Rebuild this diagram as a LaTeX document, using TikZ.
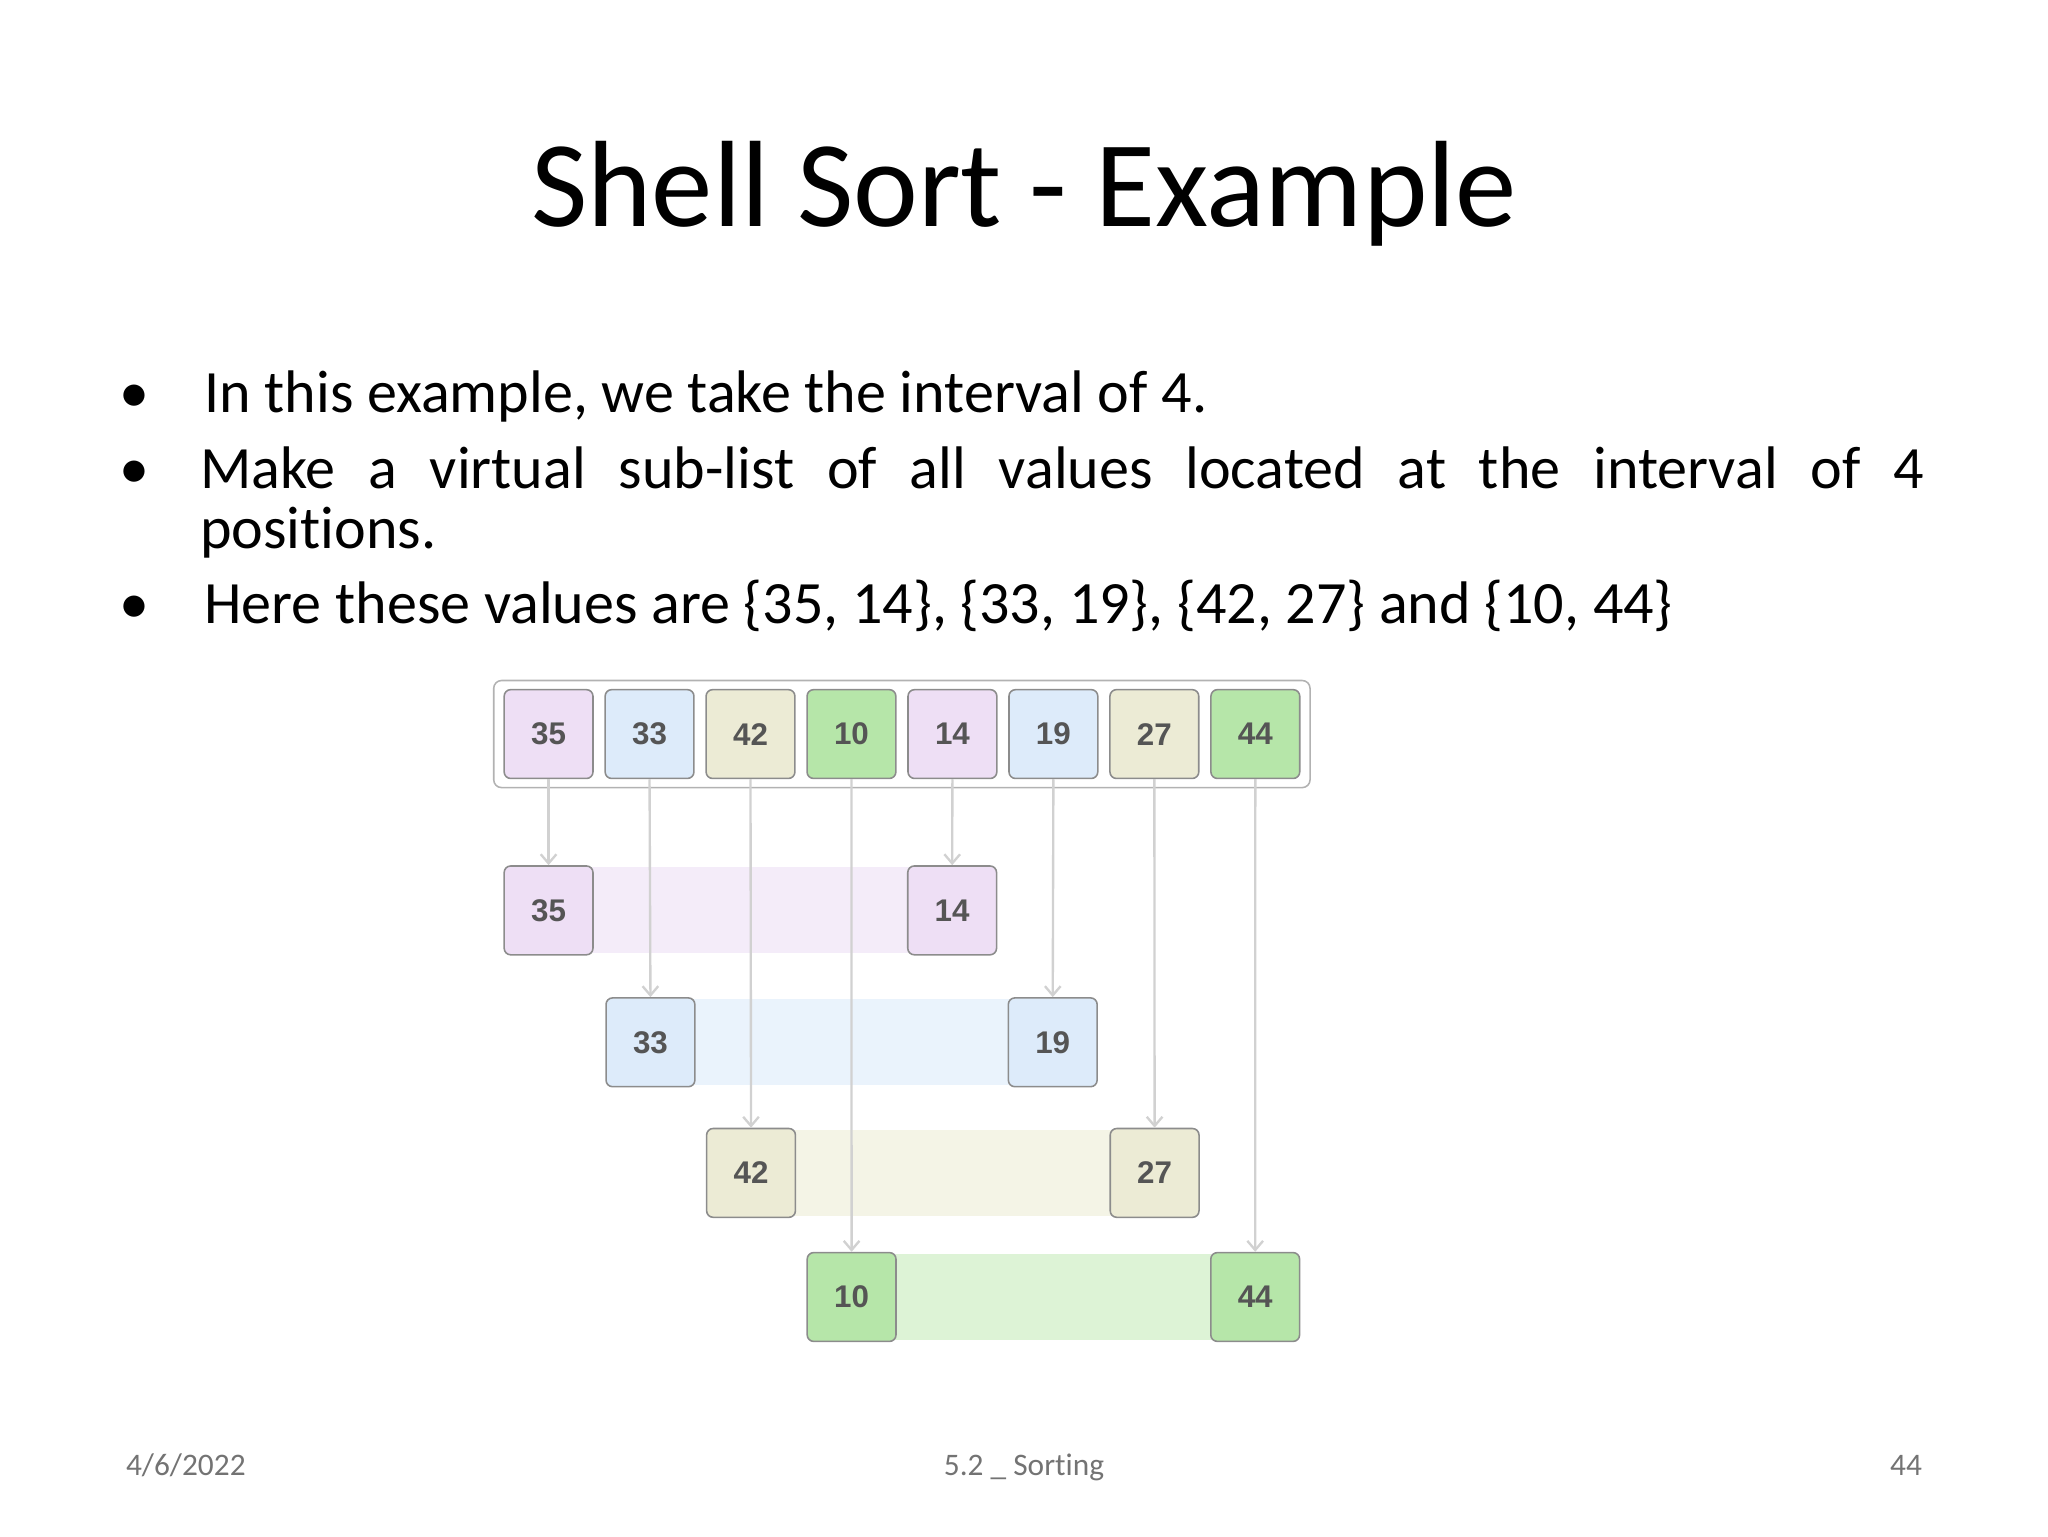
\documentclass[tikz,border=0pt]{standalone}
\usepackage{fontspec}
\setmainfont{Carlito}[Ligatures=NoCommon]
\newfontfamily\boxfont{Liberation Sans}
\usetikzlibrary{arrows.meta}
\definecolor{pF}{HTML}{EEDFF5}\definecolor{pB}{HTML}{F4ECF9}
\definecolor{bF}{HTML}{DDEBFA}\definecolor{bB}{HTML}{EAF3FC}
\definecolor{oF}{HTML}{ECEBD5}\definecolor{oB}{HTML}{F4F4E6}
\definecolor{gF}{HTML}{B6E6A9}\definecolor{gB}{HTML}{DDF3D6}
\definecolor{edge}{HTML}{8C8C8C}
\definecolor{txt}{HTML}{555555}
\begin{document}
\begin{tikzpicture}[x=1pt,y=-1pt,
  cell/.style={draw=edge,line width=1.2pt,rounded corners=5pt,minimum width=68pt,minimum height=68pt,inner sep=0pt,font=\boxfont\bfseries\fontsize{24}{24}\selectfont,text=txt},
  arr/.style={draw=black!18,line width=1.8pt,-{Straight Barb[length=7pt,width=12pt]}},
  foot/.style={font=\fontsize{24}{24}\selectfont,text=black!55}]
\useasboundingbox (0,0) rectangle (1568,1176);
\node[font=\fontsize{94}{94}\selectfont] (title) at (784,148) {Shell Sort - Example};
\begin{scope}[font=\fontsize{46}{46}\selectfont]
\node[anchor=base west] (b1) at (88,316) {•};
\node[anchor=base west] (t1) at (153,316) {In this example, we take the interval of 4.};
\node[anchor=base west] (b2) at (88,374) {•};
\node[anchor=base west,text width=1320pt,align=justify,inner sep=0pt] (t2) at (153,374) {Make a virtual sub-list of all values located at the interval of 4\linebreak positions.};
\node[anchor=base west] (b3) at (88,477) {•};
\node[anchor=base west] (t3) at (153,477) {Here these values are \{35, 14\}, \{33, 19\}, \{42, 27\} and \{10, 44\}};
\end{scope}
\draw[draw=black!30,line width=1.2pt,rounded corners=6pt] (378,521) rectangle (1003,603);
\fill[pB] (420,664) rectangle (729,730);
\fill[bB] (498,765) rectangle (806,831);
\fill[oB] (575,865) rectangle (884,931);
\fill[gB] (652,960) rectangle (961,1026);
\foreach \v/\c/\i in {35/p/0,33/b/1,42/o/2,10/g/3,14/p/4,19/b/5,27/o/6,44/g/7}{
  \node[cell,fill=\c F] (top\i) at ({420+77.3*\i},562) {\v};
}
\node[cell,fill=pF] (r0) at (420,697) {35};
\node[cell,fill=pF] (r4) at (729,697) {14};
\node[cell,fill=bF] (r1) at (498,798) {33};
\node[cell,fill=bF] (r5) at (806,798) {19};
\node[cell,fill=oF] (r2) at (575,898) {42};
\node[cell,fill=oF] (r6) at (884,898) {27};
\node[cell,fill=gF] (r3) at (652,993) {10};
\node[cell,fill=gF] (r7) at (961,993) {44};
\foreach \i in {0,...,7}{\draw[arr] (top\i.south) -- (r\i.north);}
\node[foot,anchor=base west] (d) at (93,1130) {4/6/2022};
\node[foot,anchor=base] (s) at (784,1130) {5.2 \_ Sorting};
\node[foot,anchor=base east] (p) at (1475,1130) {44};
\end{tikzpicture}
\end{document}
